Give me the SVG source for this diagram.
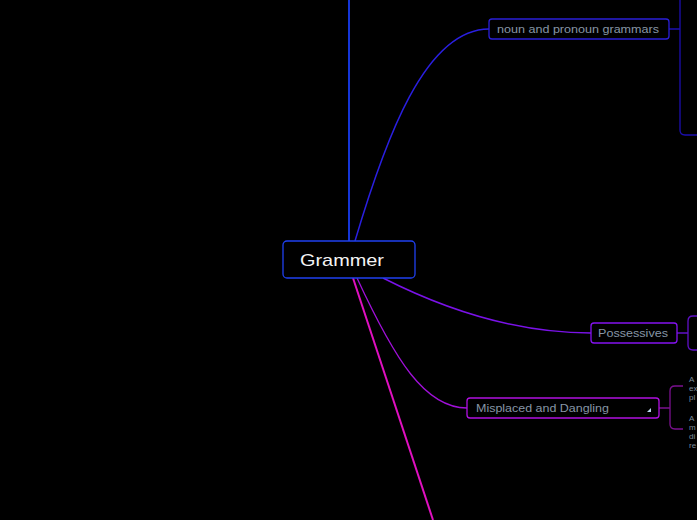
<svg xmlns="http://www.w3.org/2000/svg" width="697" height="520" viewBox="0 0 697 520">
<style>
.node{fill:#000;stroke-width:1.3}
.lbl{font-family:"Liberation Sans","DejaVu Sans",sans-serif;fill:#8796a6;font-size:11px}
.edge{fill:none}
.sm{font-family:"Liberation Sans","DejaVu Sans",sans-serif;fill:#7d8c9c;font-size:8px}
</style>
<rect width="697" height="520" fill="#000"/>
<g id="connectors">
<path class="edge" d="M349,0 L349,241" stroke="#1536d8" stroke-width="2"/>
<path class="edge" d="M355,241 C385,140 425,29 489,29" stroke="#2a1fe0" stroke-width="1.5"/>
<path class="edge" d="M669,29 L680,29 M680,0 L680,130 Q680,135 685,135 L697,135" stroke="#1c0fb0" stroke-width="1.3"/>
<path class="edge" d="M383,278 C450,312 520,333 591,333" stroke="#7a12e8" stroke-width="1.5"/>
<path class="edge" d="M677,333 L688,333 M697,316 L693,316 Q688,316 688,321 L688,345 Q688,350 693,350 L697,350" stroke="#6010c8" stroke-width="1.3"/>
<path class="edge" d="M357,278 C395,360 425,408 467,408" stroke="#a010d8" stroke-width="1.3"/>
<path class="edge" d="M659,408 L670,408 M683,386 L675,386 Q670,386 670,391 L670,424 Q670,429 675,429 L683,429" stroke="#7a108f" stroke-width="1.3"/>
<path class="edge" d="M353,278 L433,520" stroke="#e010c0" stroke-width="2"/>
</g>
<g id="n-grammer">
<rect class="node" x="283" y="241" width="132" height="37" rx="4" stroke="#1f40f0" stroke-width="1.6"/>
<text x="300" y="266" font-family="'Liberation Sans','DejaVu Sans',sans-serif" font-size="17" fill="#f4f4f4" textLength="84" lengthAdjust="spacingAndGlyphs">Grammer</text>
</g>
<g id="n-noun">
<rect class="node" x="489" y="19" width="180" height="20" rx="3" stroke="#2a1fd8"/>
<text class="lbl" x="497" y="33" textLength="162" lengthAdjust="spacingAndGlyphs">noun and pronoun grammars</text>
</g>
<g id="n-possessives">
<rect class="node" x="591" y="323" width="86" height="20" rx="3" stroke="#8412f0"/>
<text class="lbl" x="598" y="337" textLength="70" lengthAdjust="spacingAndGlyphs">Possessives</text>
</g>
<g id="n-misplaced">
<rect class="node" x="467" y="398" width="192" height="20" rx="3" stroke="#b010e0"/>
<text class="lbl" x="476" y="412" textLength="133" lengthAdjust="spacingAndGlyphs">Misplaced and Dangling</text>
<path d="M651,408 L651,412 L647,412 Z" fill="#b8d8f0"/>
</g>
<g id="n-misplaced-children">
<text class="sm" x="689" y="382">A</text>
<text class="sm" x="689" y="391">ex</text>
<text class="sm" x="689" y="400">pl</text>
<text class="sm" x="689" y="421">A</text>
<text class="sm" x="689" y="430">m</text>
<text class="sm" x="689" y="439">di</text>
<text class="sm" x="689" y="448">re</text>
</g>
</svg>
